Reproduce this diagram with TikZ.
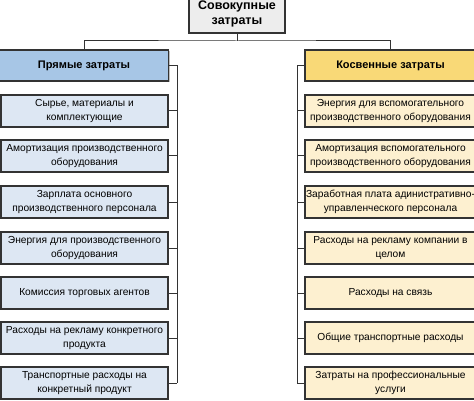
\documentclass[tikz,border=0pt]{standalone}
\usepackage{fontspec}
\setmainfont{Liberation Sans}
\usetikzlibrary{calc, positioning, shadows}

\definecolor{framegray}{HTML}{333333}
\definecolor{headblue}{HTML}{A7C6E6}
\definecolor{itemblue}{HTML}{DDE7F3}
\definecolor{headyellow}{HTML}{F9D977}
\definecolor{itemyellow}{HTML}{FDF0D0}
\definecolor{topgray}{HTML}{EDEDED}

\tikzset{
    box/.style={rectangle, draw=framegray, line width=1.2pt, align=center,
        minimum height=32pt, inner sep=1pt,
        drop shadow={shadow xshift=1pt, shadow yshift=-1pt, opacity=0.5},
        font=\fontsize{10.2}{14.5}\selectfont},
    head/.style={box, line width=1.7pt, font=\fontsize{11}{13}\selectfont\bfseries},
    litem/.style={box, fill=itemblue, minimum width=167pt},
    ritem/.style={box, fill=itemyellow, minimum width=171pt},
    conn/.style={draw=framegray, line width=1pt}
}

\begin{document}
\begin{tikzpicture}[x=1pt, y=-1pt]
    \useasboundingbox (0,0) rectangle (474,401);

    % Top
    \node[head, fill=topgray, minimum width=96pt, minimum height=38pt,
        font=\fontsize{12.5}{15}\selectfont\bfseries] (total) at (237,14) {Совокупные\\затраты};

    % Headers
    \node[head, fill=headblue, minimum width=169pt, minimum height=31pt] (direct) at (84,65.5) {Прямые затраты};
    \node[head, fill=headyellow, minimum width=171pt, minimum height=31pt] (indirect) at (390.5,65.5) {Косвенные затраты};

    % Direct costs
    \node[litem] (d1) at (84.5,111) {Сырье, материалы и\\комплектующие};
    \node[litem] (d2) at (84.5,156) {Амортизация производственного\\оборудования};
    \node[litem] (d3) at (84.5,202) {Зарплата основного\\производственного персонала};
    \node[litem] (d4) at (84.5,248) {Энергия для производственного\\оборудования};
    \node[litem] (d5) at (84.5,293) {Комиссия торговых агентов};
    \node[litem] (d6) at (84.5,338) {Расходы на рекламу конкретного\\продукта};
    \node[litem] (d7) at (84.5,383) {Транспортные расходы на\\конкретный продукт};

    % Indirect costs
    \node[ritem] (i1) at (390.5,111) {Энергия для вспомогательного\\производственного оборудования};
    \node[ritem] (i2) at (390.5,156) {Амортизация вспомогательного\\производственного оборудования};
    \node[ritem] (i3) at (390.5,202) {Заработная плата адинистративно-\\управленческого персонала};
    \node[ritem] (i4) at (390.5,248) {Расходы на рекламу компании в\\целом};
    \node[ritem] (i5) at (390.5,293) {Расходы на связь};
    \node[ritem] (i6) at (390.5,338) {Общие транспортные расходы};
    \node[ritem] (i7) at (390.5,383) {Затраты на профессиональные\\услуги};

    % Connectors
    \coordinate (split) at (237,41);
    \coordinate (lbus) at (177,0);
    \coordinate (rbus) at (297,0);
    \draw[conn] (total.south) -- (split);
    \draw[conn] (direct.north) |- (split) -| (indirect.north);

    \draw[conn] (direct.east) -- (direct.east -| lbus) -- (d7.east -| lbus);
    \draw[conn] (indirect.west) -- (indirect.west -| rbus) -- (i7.west -| rbus);
    \foreach \k in {1,...,7} {
        \draw[conn] (d\k.east) -- (d\k.east -| lbus);
        \draw[conn] (i\k.west) -- (i\k.west -| rbus);
    }

\end{tikzpicture}
\end{document}
